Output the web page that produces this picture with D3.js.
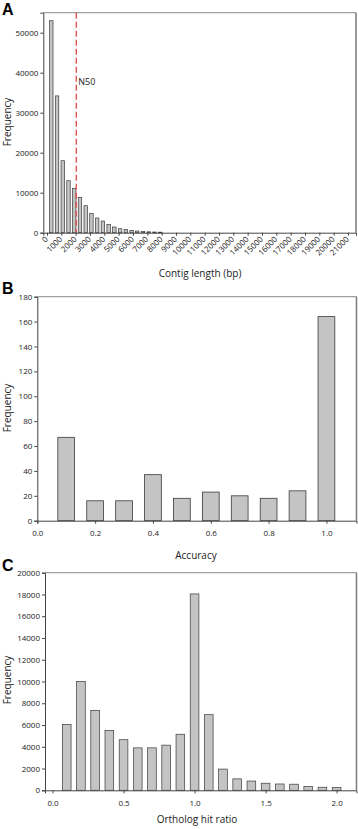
<!DOCTYPE html>
<html><head><meta charset="utf-8">
<script src="https://cdn.jsdelivr.net/npm/d3@7"></script>
<style>body{margin:0;background:#fff}svg{display:block}</style>
</head><body>
<svg id="c" width="358" height="829"></svg>
<script>
// Panel A: contig length histogram (bin width 400 bp)
const contigBinCenters = [300,700,1100,1500,1900,2300,2700,3100,3500,3900,4300,4700,5100,5500,5900,6300,6700,7100,7500,7900];
const contigCounts = [53000,34200,18000,13000,11100,8850,6750,4850,3670,2920,2080,1420,1000,830,580,420,300,230,170,130];
const contigTicks = d3.range(0, 22000, 1000);
const contigYTicks = [0,10000,20000,30000,40000,50000];
const n50 = 2045;

// Panel B: accuracy
const accCats = [0.1,0.2,0.3,0.4,0.5,0.6,0.7,0.8,0.9,1.0];
const accCounts = [67,16,16,37,18,23,20,18,24,164];
const accXTicks = [0,0.2,0.4,0.6,0.8,1.0];
const accYTicks = [0,20,40,60,80,100,120,140,160,180];

// Panel C: ortholog hit ratio
const ohrCats = [0.1,0.2,0.3,0.4,0.5,0.6,0.7,0.8,0.9,1.0,1.1,1.2,1.3,1.4,1.5,1.6,1.7,1.8,1.9,2.0];
const ohrCounts = [6050,10000,7350,5500,4650,3900,3900,4150,5150,18050,6950,1950,1050,850,650,580,560,350,280,250];
const ohrXTicks = [0,0.5,1.0,1.5,2.0];
const ohrYTicks = d3.range(0, 22000, 2000);

const svg = d3.select("#c");
const FONT = "'Open Sans', sans-serif";
const TICK_FS = 8;
const BAR_FILL = "#c4c4c4", BAR_STROKE = "#3a3a3a";

function frame(g, x0, x1, y0, y1) {
  g.append("line").attr("x1", x0).attr("x2", x1).attr("y1", y0).attr("y2", y0).attr("stroke", "#8a8a8a").attr("stroke-width", 1);
  g.append("line").attr("x1", x1).attr("x2", x1).attr("y1", y0).attr("y2", y1).attr("stroke", "#7a7a7a").attr("stroke-width", 1.5);
}
function yAxis(g, y, x0, ticks, fmt) {
  const ax = g.append("g").attr("transform", `translate(${x0},0)`)
    .call(d3.axisLeft(y).tickValues(ticks).tickSize(3).tickPadding(2).tickFormat(fmt));
  ax.select(".domain").attr("stroke", "#444");
  ax.selectAll(".tick line").attr("stroke", "#444");
  ax.selectAll("text").attr("font-family", FONT).attr("font-size", TICK_FS).attr("fill", "#222");
}
function label(txt, x, y) {
  svg.append("text").attr("x", x).attr("y", y).text(txt)
    .attr("font-family", "'Liberation Sans', Arial, sans-serif").attr("font-weight", "bold").attr("font-size", 16);
}
function ytitle(y) {
  svg.append("text").attr("transform", `translate(11,${y}) rotate(-90)`).attr("text-anchor", "middle")
    .attr("font-family", FONT).attr("font-size", 10).attr("fill", "#222").text("Frequency");
}
function xtitle(txt, x, y) {
  svg.append("text").attr("x", x).attr("y", y).attr("text-anchor", "middle")
    .attr("font-family", FONT).attr("font-size", 10).attr("fill", "#222").text(txt);
}

// ---------- Panel A ----------
{
  const L = 43.3, R = 356, T = 12.7, B = 232.7;
  const x = d3.scaleLinear().domain([-258, 21558]).range([L, R]);
  const y = d3.scaleLinear().domain([0, 55000]).range([B, T]);
  const g = svg.append("g");
  frame(g, L, R, T, B);
  const bw = x(240) - x(0);
  g.selectAll("rect").data(contigCounts).join("rect")
    .attr("x", (d, i) => x(contigBinCenters[i]) - bw / 2)
    .attr("width", bw)
    .attr("y", d => y(d)).attr("height", d => B - y(d))
    .attr("fill", BAR_FILL).attr("stroke", BAR_STROKE).attr("stroke-width", 0.7);
  g.append("line").attr("x1", x(n50)).attr("x2", x(n50)).attr("y1", T).attr("y2", B)
    .attr("stroke", "#dd5555").attr("stroke-width", 1.4).attr("stroke-dasharray", "6,3");
  g.append("text").attr("x", x(n50) + 2).attr("y", 85).text("N50")
    .attr("font-family", FONT).attr("font-size", 9).attr("fill", "#222");
  const xa = g.append("g").attr("transform", `translate(0,${B})`)
    .call(d3.axisBottom(x).tickValues(contigTicks).tickSize(3).tickFormat(d3.format("d")));
  xa.select(".domain").attr("stroke", "#444");
  xa.selectAll(".tick line").attr("stroke", "#444");
  xa.selectAll("text").attr("font-family", FONT).attr("font-size", TICK_FS).attr("fill", "#222")
    .attr("text-anchor", "end").attr("dy", 0).attr("y", 0)
    .attr("transform", "translate(1,7) rotate(-45)");
  yAxis(g, y, L, contigYTicks, d3.format("d"));
  label("A", 2, 15);
  ytitle(122);
  xtitle("Contig length (bp)", 200, 277);
}

// ---------- Panel B ----------
{
  const L = 37.3, R = 356.5, T = 296.7, B = 520.7;
  const x = d3.scaleLinear().domain([0, 1.104]).range([L, R]);
  const y = d3.scaleLinear().domain([0, 180]).range([B, T]);
  const g = svg.append("g");
  frame(g, L, R, T, B);
  const bw = x(0.058) - x(0);
  g.selectAll("rect").data(accCounts).join("rect")
    .attr("x", (d, i) => x(accCats[i]) - bw / 2).attr("width", bw)
    .attr("y", d => y(d)).attr("height", d => B - y(d))
    .attr("fill", BAR_FILL).attr("stroke", BAR_STROKE).attr("stroke-width", 0.8);
  const xa = g.append("g").attr("transform", `translate(0,${B})`)
    .call(d3.axisBottom(x).tickValues(accXTicks).tickSize(3).tickPadding(7).tickFormat(d3.format(".1f")));
  xa.select(".domain").attr("stroke", "#444");
  xa.selectAll(".tick line").attr("stroke", "#444");
  xa.selectAll("text").attr("font-family", FONT).attr("font-size", TICK_FS).attr("fill", "#222");
  yAxis(g, y, L, accYTicks, d3.format("d"));
  label("B", 2, 294);
  ytitle(408);
  xtitle("Accuracy", 196, 559);
}

// ---------- Panel C ----------
{
  const L = 45, R = 356.5, T = 572.7, B = 790.3;
  const x = d3.scaleLinear().domain([-0.053, 2.14]).range([L, R]);
  const y = d3.scaleLinear().domain([0, 20000]).range([B, T]);
  const g = svg.append("g");
  frame(g, L, R, T, B);
  const bw = x(0.061) - x(0);
  g.selectAll("rect").data(ohrCounts).join("rect")
    .attr("x", (d, i) => x(ohrCats[i]) - bw / 2).attr("width", bw)
    .attr("y", d => y(d)).attr("height", d => B - y(d))
    .attr("fill", BAR_FILL).attr("stroke", BAR_STROKE).attr("stroke-width", 0.7);
  const xa = g.append("g").attr("transform", `translate(0,${B})`)
    .call(d3.axisBottom(x).tickValues(ohrXTicks).tickSize(3).tickPadding(7).tickFormat(d3.format(".1f")));
  xa.select(".domain").attr("stroke", "#444");
  xa.selectAll(".tick line").attr("stroke", "#444");
  xa.selectAll("text").attr("font-family", FONT).attr("font-size", TICK_FS).attr("fill", "#222");
  yAxis(g, y, L, ohrYTicks, d3.format("d"));
  label("C", 2, 571);
  ytitle(680);
  xtitle("Ortholog hit ratio", 197, 823);
}
</script>
</body></html>
